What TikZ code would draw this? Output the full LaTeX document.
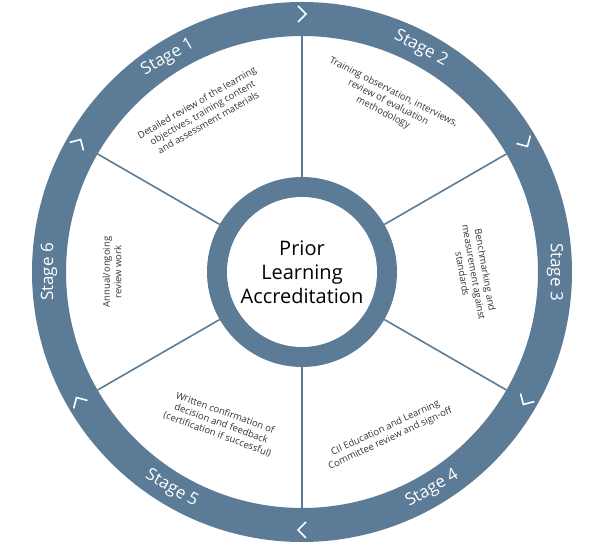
\documentclass[tikz,border=0pt]{standalone}
\usepackage{fontspec}
\setmainfont{Open Sans}
\usetikzlibrary{calc, positioning}
\definecolor{slate}{HTML}{5B7B96}
\tikzset{
    ringnode/.style = {draw=none, fill=none, text=white, font=\fontsize{17}{17}\selectfont, inner sep=0pt},
    textnode/.style = {draw=none, fill=none, align=center, font=\fontsize{9.5}{11.5}\selectfont, text=black!80, inner sep=0pt},
    spoke/.style = {slate, line width=1.6pt},
    chevron/.style = {white, line width=1.6pt}
}
\begin{document}
\begin{tikzpicture}[x=1pt, y=1pt]
\useasboundingbox (0,0) rectangle (600,545);
\coordinate (centre) at (302,273);

% outer ring
\fill[slate, even odd rule] (centre) circle (270) (centre) circle (236);
\foreach \a in {90,30,-30,-90,-150,150}
    \draw[spoke] ($(centre)+(\a:95)$) -- ($(centre)+(\a:236)$);
\foreach \a in {90,30,-30,-90,-150,150}
    \draw[chevron, shift={($(centre)+(\a:258)$)}, rotate=\a-90] (-4,8) -- (4,0) -- (-4,-8);

% inner ring
\fill[slate] (centre) circle (95);
\fill[white] (centre) circle (75);
\node [textnode, name = hub, font=\fontsize{20}{24}\selectfont, text=black] at (centre) {Prior\\Learning\\Accreditation};

% stage labels
\node [ringnode, name = s1, rotate=30] at ($(centre)+(122:253)$) {Stage 1};
\node [ringnode, name = s2, rotate=-28] at ($(centre)+(62:253)$) {Stage 2};
\node [ringnode, name = s3, rotate=-90] at ($(centre)+(0:253)$) {Stage 3};
\node [ringnode, name = s4, rotate=30] at ($(centre)+(-59:253)$) {Stage 4};
\node [ringnode, name = s5, rotate=-30] at ($(centre)+(-121:253)$) {Stage 5};
\node [ringnode, name = s6, rotate=90] at ($(centre)+(180:253)$) {Stage 6};

% sector texts
\node [textnode, name = t1, rotate=30] at ($(centre)+(122:188)$)
    {Detailed review of the learning\\objectives, training content\\and assessment materials};
\node [textnode, name = t2, rotate=-27] at ($(centre)+(63:190)$)
    {Training observation, interviews,\\review of evaluation\\methodology};
\node [textnode, name = t3, rotate=-80] at ($(centre)+(0:172)$)
    {Benchmarking and\\measurement against\\standards};
\node [textnode, name = t4, rotate=25] at ($(centre)+(-62:183)$)
    {CII Education and Learning\\Committee review and sign-off};
\node [textnode, name = t5, rotate=-20] at ($(centre)+(-118:172)$)
    {Written confirmation of\\decision and feedback\\(certification if successful)};
\node [textnode, name = t6, rotate=90] at ($(centre)+(180:190)$)
    {Annual/ongoing\\review work};
\end{tikzpicture}
\end{document}
